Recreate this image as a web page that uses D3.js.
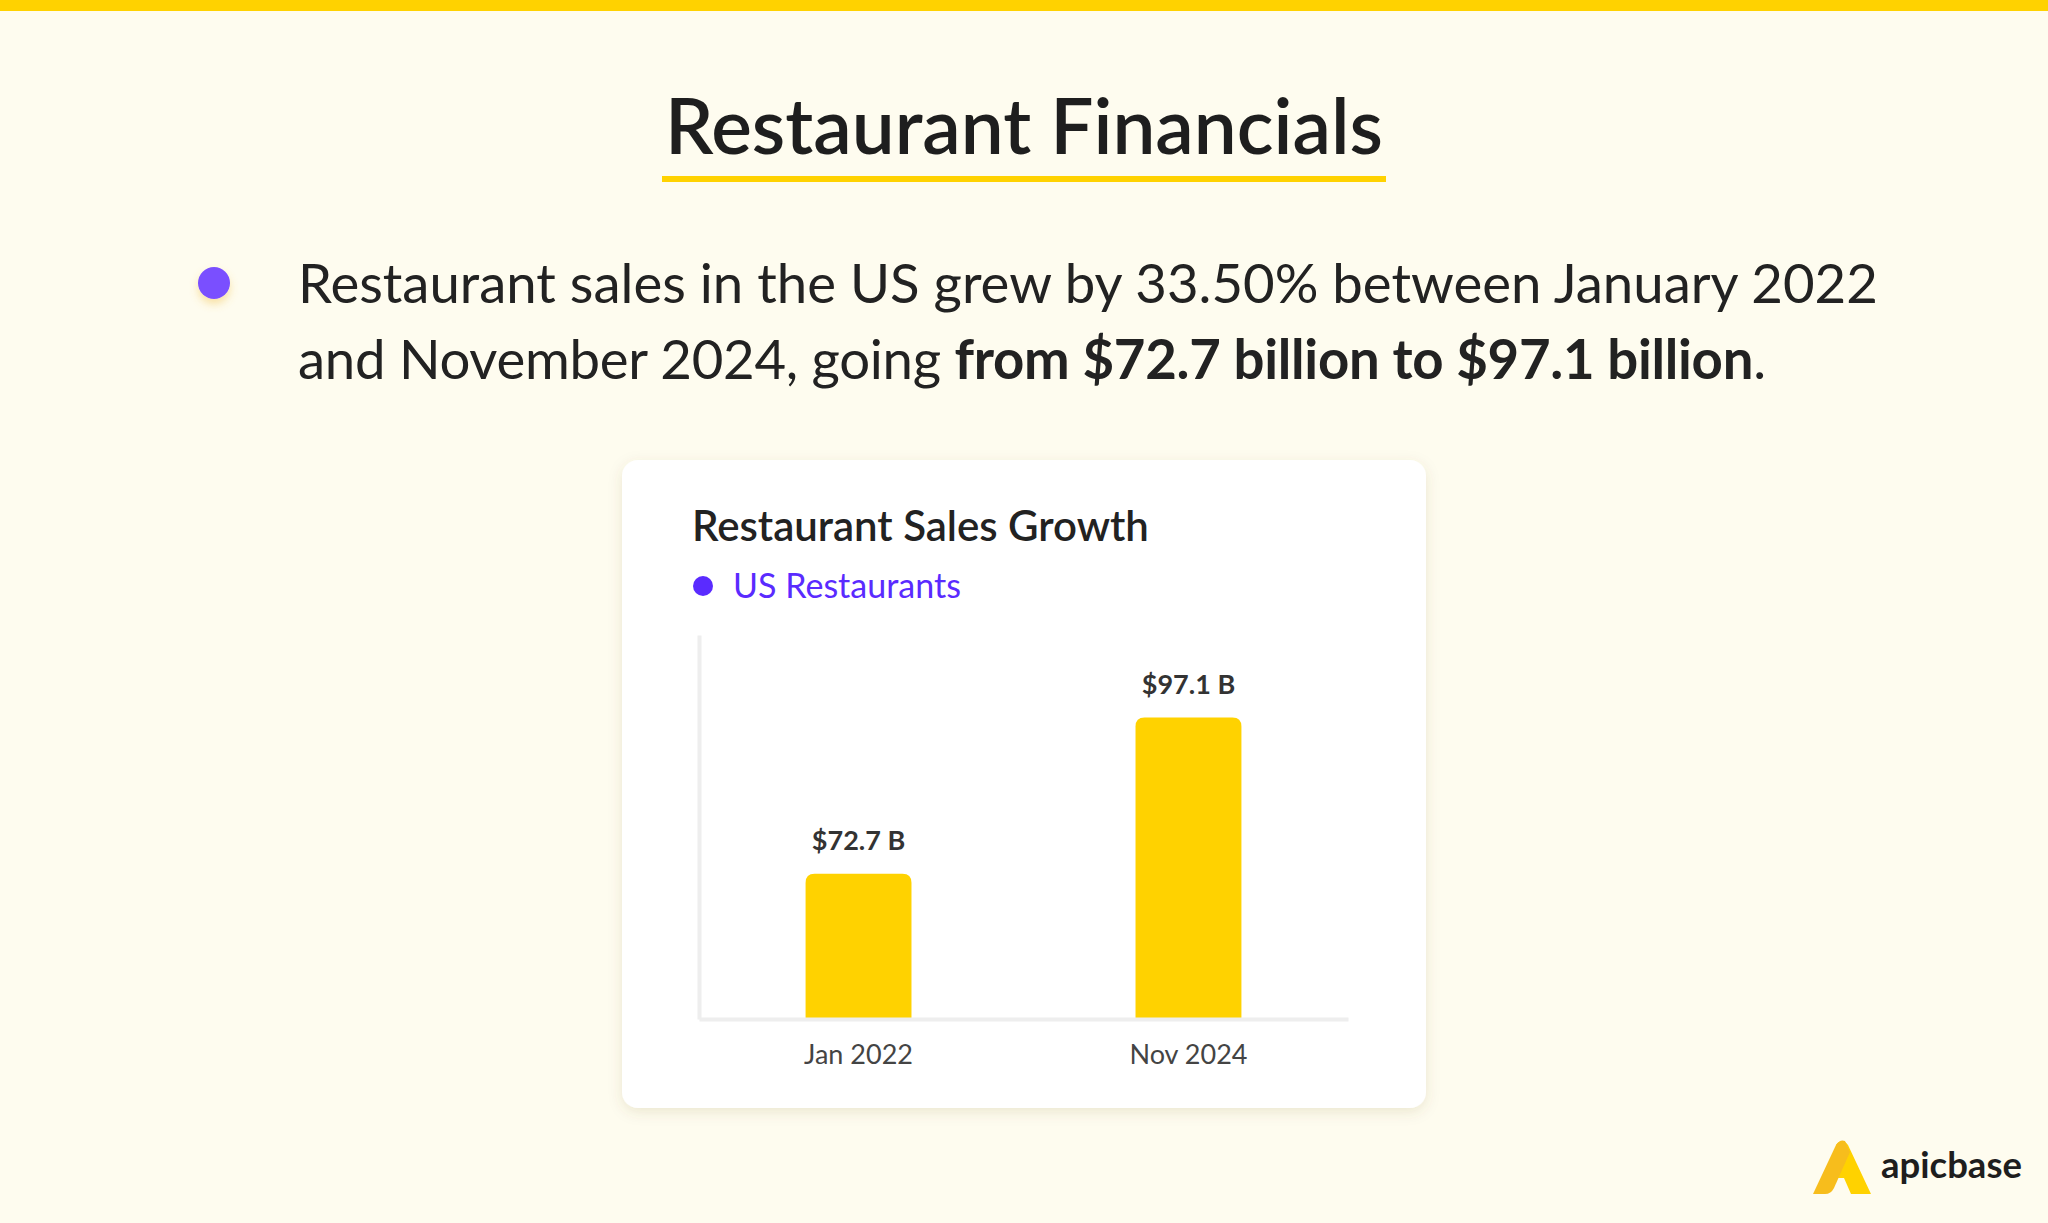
<!DOCTYPE html>
<html>
<head>
<meta charset="utf-8">
<script src="https://cdn.jsdelivr.net/npm/d3@7"></script>
<style>
  html, body { margin: 0; padding: 0; background: #FEFCEF; }
  svg { display: block; }
  text { font-family: Lato, "Noto Sans", sans-serif; }
</style>
</head>
<body>
<svg id="chart" width="2048" height="1223"></svg>
<script>
// ---- data ----
const pageTitle = "Restaurant Financials";
const bulletLine1 = "Restaurant sales in the US grew by 33.50% between January 2022";
const bulletLine2Parts = [
  { text: "and November 2024, going ", bold: false },
  { text: "from $72.7 billion to $97.1 billion", bold: true },
  { text: ".", bold: false }
];
const chartTitle = "Restaurant Sales Growth";
const seriesName = "US Restaurants";
const categories = ["Jan 2022", "Nov 2024"];
const values = [72.7, 97.1];
const valueLabels = ["$72.7 B", "$97.1 B"];
const yDomain = [50, 110];
const brand = "apicbase";

// ---- helpers ----
function fitWidth(sel, target) {
  const fs = parseFloat(sel.attr("font-size"));
  const w = sel.node().getBBox().width;
  if (w > 0) sel.attr("font-size", fs * target / w);
}
function fitSpacing(sel, target) {
  const w = sel.node().getBBox().width;
  const n = sel.text().length;
  if (w > 0 && n > 1) sel.attr("letter-spacing", (target - w) / (n - 1));
}

const svg = d3.select("#chart");
const defs = svg.append("defs");
const shadow = defs.append("filter").attr("id", "cardShadow")
  .attr("x", "-10%").attr("y", "-10%").attr("width", "120%").attr("height", "125%");
shadow.append("feDropShadow").attr("dx", 0).attr("dy", 4).attr("stdDeviation", 7)
  .attr("flood-color", "#6b5a00").attr("flood-opacity", 0.13);
const glow = defs.append("filter").attr("id", "dotGlow")
  .attr("x", "-80%").attr("y", "-80%").attr("width", "260%").attr("height", "280%");
glow.append("feDropShadow").attr("dx", 0).attr("dy", 5).attr("stdDeviation", 4)
  .attr("flood-color", "#f2c14a").attr("flood-opacity", 0.45);

// background
svg.append("rect").attr("width", 2048).attr("height", 1223).attr("fill", "#FEFCEF");
// top band
svg.append("rect").attr("x", 0).attr("y", 0).attr("width", 2048).attr("height", 11).attr("fill", "#FFD200");

// title
const title = svg.append("text")
  .attr("x", 1024).attr("y", 154).attr("text-anchor", "middle")
  .attr("font-size", 76).attr("font-weight", 600).attr("fill", "#1E1E1E")
  .text(pageTitle);
fitWidth(title, 718);
svg.append("rect").attr("x", 662).attr("y", 176).attr("width", 724).attr("height", 6).attr("fill", "#FFD200");

// bullet
svg.append("circle").attr("cx", 214).attr("cy", 283).attr("r", 16)
  .attr("fill", "#7A50FF").attr("filter", "url(#dotGlow)");
const l1 = svg.append("text").attr("x", 298).attr("y", 303)
  .attr("font-size", 54).attr("fill", "#222").text(bulletLine1);
fitWidth(l1, 1580);
const bodySize = parseFloat(l1.attr("font-size"));
const l2 = svg.append("text").attr("x", 298).attr("y", 379)
  .attr("font-size", bodySize).attr("fill", "#222");
l2.selectAll("tspan").data(bulletLine2Parts).join("tspan")
  .attr("font-weight", d => d.bold ? 700 : 400)
  .text(d => d.text);
fitSpacing(l2, 1468);

// card
svg.append("rect").attr("x", 622).attr("y", 460).attr("width", 804).attr("height", 648)
  .attr("rx", 16).attr("fill", "#FFFFFF").attr("filter", "url(#cardShadow)");

const ct = svg.append("text").attr("x", 692).attr("y", 541)
  .attr("font-size", 40).attr("font-weight", 600).attr("fill", "#222").text(chartTitle);
fitWidth(ct, 457);

svg.append("circle").attr("cx", 703).attr("cy", 586).attr("r", 10).attr("fill", "#5A2BFF");
const lg = svg.append("text").attr("x", 733).attr("y", 598)
  .attr("font-size", 32).attr("fill", "#5A2BFF").text(seriesName);
fitWidth(lg, 228);

// chart
const plot = { left: 699, right: 1348, top: 635, bottom: 1019 };
const x = d3.scaleBand().domain(categories).range([plot.left, plot.right])
  .paddingInner(0.679).paddingOuter(0.323);
const y = d3.scaleLinear().domain(yDomain).range([plot.bottom, plot.top]);

const g = svg.append("g");
const rTop = 9;
g.selectAll("path.bar").data(values).join("path").attr("class", "bar")
  .attr("fill", "#FFD200")
  .attr("d", (d, i) => {
    const x0 = x(categories[i]), w = x.bandwidth(), y0 = y(d), yb = y(yDomain[0]);
    return `M${x0},${yb} L${x0},${y0 + rTop} Q${x0},${y0} ${x0 + rTop},${y0} ` +
      `L${x0 + w - rTop},${y0} Q${x0 + w},${y0} ${x0 + w},${y0 + rTop} L${x0 + w},${yb} Z`;
  });

g.selectAll("text.val").data(values).join("text").attr("class", "val")
  .attr("x", (d, i) => x(categories[i]) + x.bandwidth() / 2)
  .attr("y", d => y(d) - 24)
  .attr("text-anchor", "middle").attr("font-size", 27).attr("font-weight", 700)
  .attr("fill", "#333").text((d, i) => valueLabels[i]);

const xAxis = svg.append("g").attr("transform", `translate(0,${plot.bottom})`)
  .call(d3.axisBottom(x).tickSize(0).tickSizeOuter(0).tickPadding(26));
xAxis.select(".domain").attr("stroke", "#EEEEEE").attr("stroke-width", 4);
xAxis.selectAll("text").attr("font-size", 27).attr("fill", "#444")
  .attr("font-family", "Lato, sans-serif");

const yAxis = svg.append("g").attr("transform", `translate(${plot.left},0)`)
  .call(d3.axisLeft(y).tickValues([]).tickSizeOuter(0));
yAxis.select(".domain").attr("stroke", "#EEEEEE").attr("stroke-width", 4);

// logo
const logo = svg.append("g");
logo.append("path").attr("fill", "#FFD200")
  .attr("d", "M1836,1145 Q1842,1137 1848,1145 L1871,1194 L1851,1194 L1844,1178 L1833,1178 L1839,1170 L1841,1170 L1838,1162 Z");
logo.append("path").attr("fill", "#F7BD1C")
  .attr("d", "M1836,1145 Q1840,1139 1845,1141 L1850,1152 L1834,1188 Q1831,1194 1825,1194 L1813,1194 Z");
const bt = logo.append("text").attr("x", 1881).attr("y", 1178)
  .attr("font-size", 38).attr("font-weight", 700).attr("fill", "#1E1E1E").text(brand);
fitWidth(bt, 141);
</script>
</body>
</html>
